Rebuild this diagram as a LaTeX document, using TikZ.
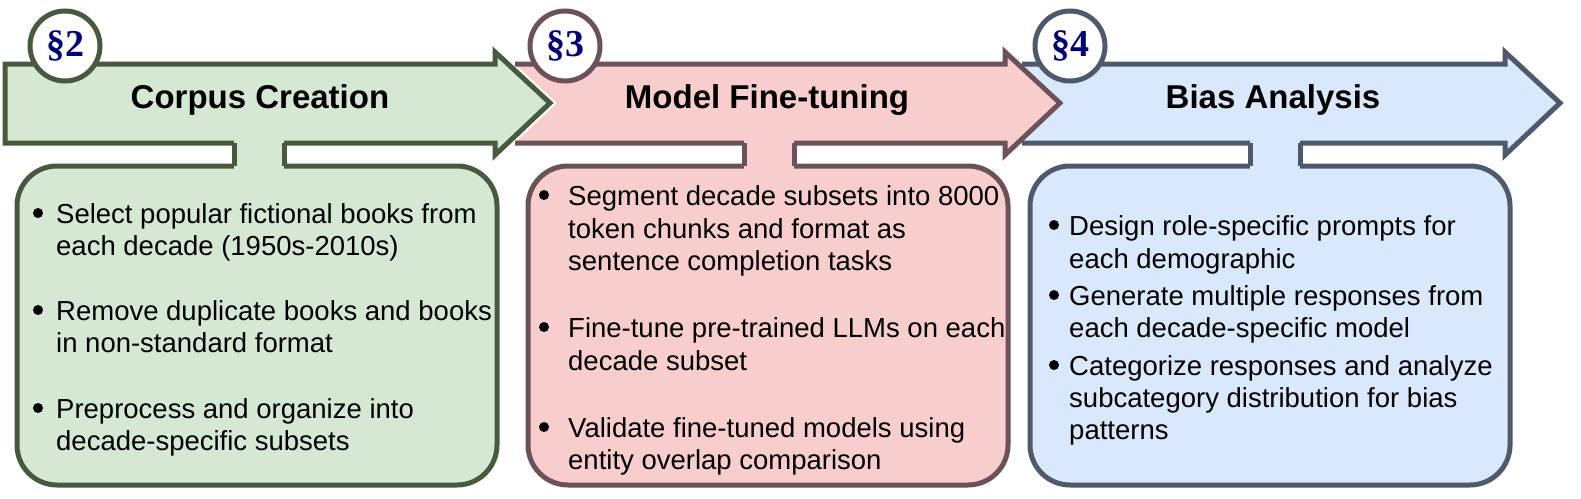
\documentclass[tikz,border=0pt]{standalone}
\usepackage{fontspec}
\setmainfont{Liberation Sans}
\newfontfamily\serifnum{Liberation Serif}
\begin{document}
\begin{tikzpicture}[x=1pt,y=-1pt,
  bl/.style={anchor=base west,inner sep=0pt,font=\fontsize{27.5}{32}\selectfont},
  dot/.style={circle,fill=black,inner sep=0pt,minimum size=10pt},
  ttl/.style={font=\fontsize{33}{36}\bfseries\selectfont},
  sec/.style={circle,draw,line width=5pt,fill=white,minimum size=70pt,inner sep=0pt,
     font=\serifnum\fontsize{38}{40}\bfseries\selectfont,text=blue!45!black},
  lw/.style={line width=5pt,line join=miter}]
\definecolor{gF}{HTML}{D5E8D4}\definecolor{gD}{HTML}{485A3E}
\definecolor{rF}{HTML}{F8CECC}\definecolor{rD}{HTML}{6B5158}
\definecolor{bF}{HTML}{DAE8FC}\definecolor{bD}{HTML}{4E5A6C}
\useasboundingbox (0,0) rectangle (1581,498);
% ---- panel 1
\fill[gF] (5,64)--(495,64)--(495,52)--(550,103)--(495,155)--(495,143)--(5,143)--cycle;
\draw[gD,lw] (5,64)--(495,64)--(495,52)--(550,103)--(495,155)--(495,143)--(5,143)--cycle;
\draw[gD,lw,fill=gF,rounded corners=40pt] (17,166) rectangle (497,485);
\fill[gF] (234,140) rectangle (284,169);
\draw[gD,lw] (234,143)--(234,166) (284,143)--(284,166);
% ---- panel 2
\fill[rF] (515,64)--(1005,64)--(1005,52)--(1060,103)--(1005,155)--(1005,143)--(515,143)--(557,103)--cycle;
\draw[rD,lw] (515,64)--(1005,64)--(1005,52)--(1060,103)--(1005,155)--(1005,143)--(515,143);
\draw[rD,lw,fill=rF,rounded corners=40pt] (528,166) rectangle (1008,485);
\fill[rF] (744,140) rectangle (794,169);
\draw[rD,lw] (744,143)--(744,166) (794,143)--(794,166);
% ---- panel 3
\fill[bF] (1022,64)--(1505,64)--(1505,52)--(1560,103)--(1505,155)--(1505,143)--(1022,143)--(1064,103)--cycle;
\draw[bD,lw] (1022,64)--(1505,64)--(1505,52)--(1560,103)--(1505,155)--(1505,143)--(1022,143);
\draw[bD,lw,fill=bF,rounded corners=40pt] (1030,166) rectangle (1510,485);
\fill[bF] (1250,140) rectangle (1300,169);
\draw[bD,lw] (1250,143)--(1250,166) (1300,143)--(1300,166);
% circles
\node[sec,draw=gD] (s2) at (65,46) {§2};
\node[sec,draw=rD] (s3) at (565,46) {§3};
\node[sec,draw=bD] (s4) at (1070,46) {§4};
% titles
\node[ttl] (t1) at (260,100) {Corpus Creation};
\node[ttl] (t2) at (767,100) {Model Fine-tuning};
\node[ttl] (t3) at (1273,100) {Bias Analysis};
% panel 1 bullets
\node[dot] (d11) at (38,213) {};
\node[bl] (l11) at (56,223) {Select popular fictional books from};
\node[bl] (l12) at (56,255) {each decade (1950s-2010s)};
\node[dot] (d12) at (38,310) {};
\node[bl] (l13) at (56,320) {Remove duplicate books and books};
\node[bl] (l14) at (56,352) {in non-standard format};
\node[dot] (d13) at (38,408) {};
\node[bl] (l15) at (56,418) {Preprocess and organize into};
\node[bl] (l16) at (56,450) {decade-specific subsets};
% panel 2
\node[dot] (d21) at (544,195) {};
\node[bl] (l21) at (568,205) {Segment decade subsets into 8000};
\node[bl] (l22) at (568,238) {token chunks and format as};
\node[bl] (l23) at (568,270) {sentence completion tasks};
\node[dot] (d22) at (544,327) {};
\node[bl] (l24) at (568,337) {Fine-tune pre-trained LLMs on each};
\node[bl] (l25) at (568,370) {decade subset};
\node[dot] (d23) at (544,427) {};
\node[bl] (l26) at (568,437) {Validate fine-tuned models using};
\node[bl] (l27) at (568,469) {entity overlap comparison};
% panel 3
\node[dot] (d31) at (1054,225) {};
\node[bl] (l31) at (1069,235) {Design role-specific prompts for};
\node[bl] (l32) at (1069,268) {each demographic};
\node[dot] (d32) at (1054,295) {};
\node[bl] (l33) at (1069,305) {Generate multiple responses from};
\node[bl] (l34) at (1069,337) {each decade-specific model};
\node[dot] (d33) at (1054,365) {};
\node[bl] (l35) at (1069,375) {Categorize responses and analyze};
\node[bl] (l36) at (1069,407) {subcategory distribution for bias};
\node[bl] (l37) at (1069,439) {patterns};
\end{tikzpicture}
\end{document}
